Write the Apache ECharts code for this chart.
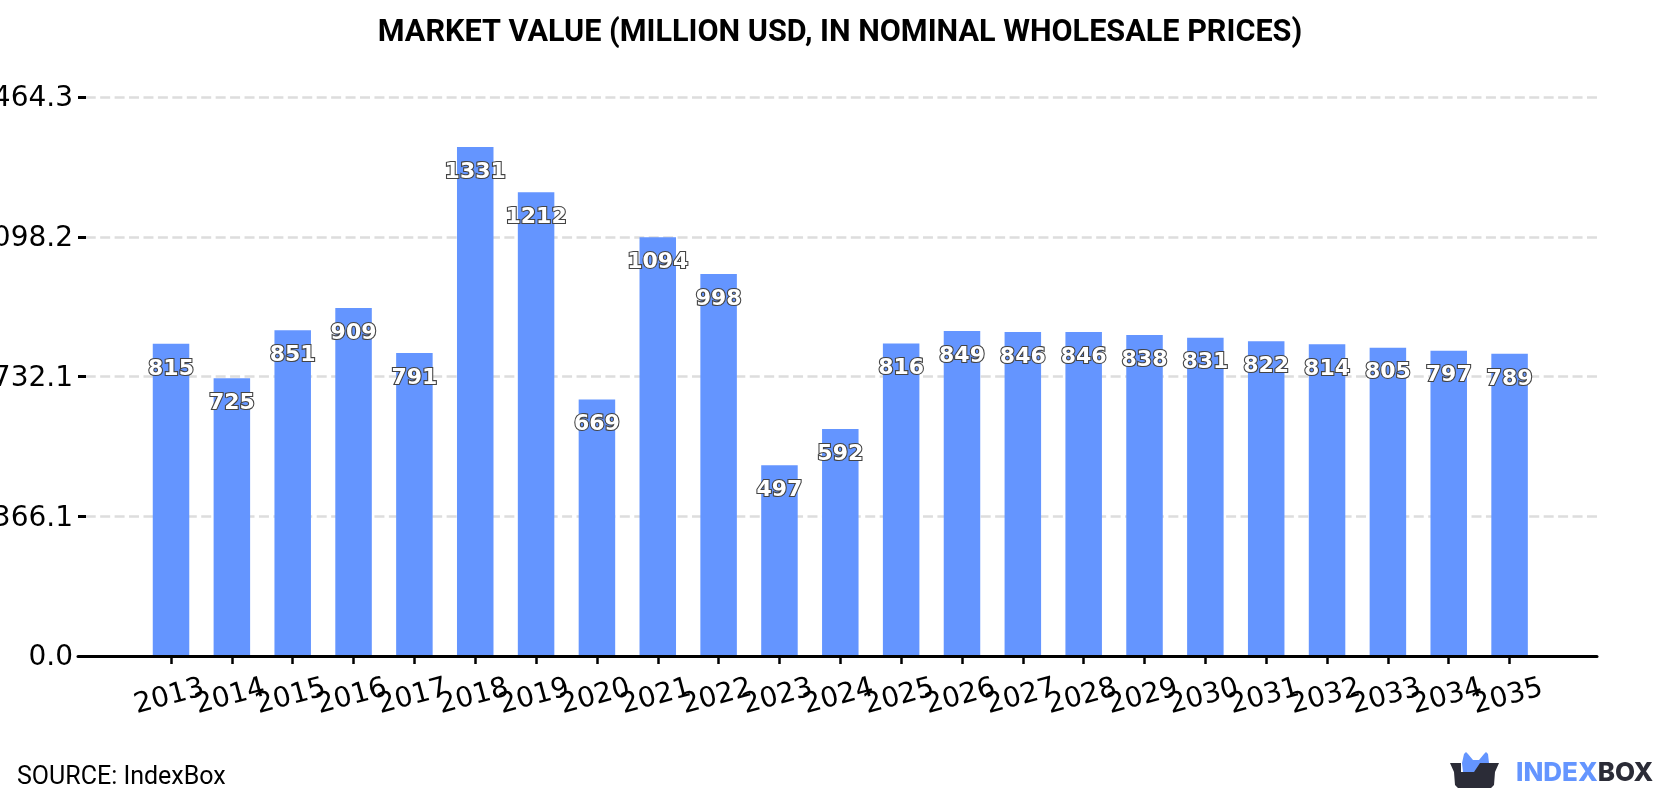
<!DOCTYPE html>
<html>
<head>
<meta charset="utf-8">
<style>html,body{margin:0;padding:0;background:#fff}#chart{width:1680px;height:800px}</style>
<script src="https://cdn.jsdelivr.net/npm/echarts@6/dist/echarts.min.js"></script>
</head>
<body>
<div id="chart"></div>
<script>
// Market value by year, million USD
const years = ['2013','2014','2015','2016','2017','2018','2019','2020','2021','2022','2023','2024','2025','2026','2027','2028','2029','2030','2031','2032','2033','2034','2035'];
const values = [815,725,851,909,791,1331,1212,669,1094,998,497,592,816,849,846,846,838,831,822,814,805,797,789];
const yTickLabels = ['0.0','366.1','732.1','1098.2','1464.3'];
const yMax = 1464.3;
const yStep = yMax / 4;

const titleText = 'MARKET VALUE (MILLION USD, IN NOMINAL WHOLESALE PRICES)';
const sourceText = 'SOURCE: IndexBox';

const BLUE = '#6495ff';
const DARK = '#2b2c37';

const chart = echarts.init(document.getElementById('chart'), null, {renderer: 'canvas'});
chart.setOption({
  animation: false,
  backgroundColor: '#fff',
  title: {
    text: titleText,
    left: 'center',
    top: 13,
    textStyle: {fontFamily: 'Roboto', fontWeight: 'bold', fontSize: 30.6, color: '#000'}
  },
  // Grid 0: gridlines and baseline. Grid 1: bars. Grid 2: value labels, set slightly below their ticks.
  grid: [
    {left: 78, right: 83, top: 97, bottom: 144, outerBoundsMode: 'none'},
    {left: 140.6, right: 140, top: 96, bottom: 145, outerBoundsMode: 'none'},
    {left: 78, right: 83, top: 99, bottom: 142, outerBoundsMode: 'none'}
  ],
  xAxis: [
    {
      type: 'value', gridIndex: 0, min: 0, max: 1,
      axisLine: {show: true, lineStyle: {color: '#000', width: 3}},
      axisTick: {show: false}, axisLabel: {show: false}, splitLine: {show: false}
    },
    {
      type: 'category', gridIndex: 1, data: years,
      axisLine: {show: false},
      axisTick: {show: true, alignWithLabel: true, length: 9, lineStyle: {color: '#000', width: 2.5}},
      axisLabel: {
        interval: 0, rotate: 15, align: 'center', verticalAlign: 'top', margin: 27,
        padding: [0, 11, 0, 0],
        hideOverlap: false, fontFamily: 'DejaVu Sans', fontSize: 28, color: '#000'
      },
      splitLine: {show: false}
    },
    {
      type: 'value', gridIndex: 2, min: 0, max: 1, show: false
    }
  ],
  yAxis: [
    {
      type: 'value', gridIndex: 0, min: 0, max: yMax, interval: yStep,
      axisLine: {show: false},
      axisTick: {show: true, inside: true, length: 8, lineStyle: {color: '#000', width: 3}},
      axisLabel: {show: false},
      splitLine: {show: true, lineStyle: {color: '#dddddd', width: 2.5, type: [10, 4.435], dashOffset: 6.7}}
    },
    {
      type: 'value', gridIndex: 1, min: 0, max: yMax, interval: yStep,
      axisLine: {show: false}, axisTick: {show: false}, axisLabel: {show: false}, splitLine: {show: false}
    },
    {
      type: 'value', gridIndex: 2, min: 0, max: yMax, interval: yStep,
      axisLine: {show: false}, axisTick: {show: false}, splitLine: {show: false},
      axisLabel: {
        margin: 5, fontFamily: 'DejaVu Sans', fontSize: 28, color: '#000',
        formatter: (v) => yTickLabels[Math.round(v / yStep)]
      }
    }
  ],
  series: [{
    type: 'bar',
    xAxisIndex: 1,
    yAxisIndex: 1,
    data: values,
    barWidth: '60%',
    itemStyle: {color: BLUE},
    label: {
      show: true,
      position: 'insideTop',
      distance: 14,
      fontFamily: 'DejaVu Sans',
      fontWeight: 'bold',
      fontSize: 22,
      color: '#fff',
      textBorderColor: '#444',
      textBorderWidth: 2.2
    }
  }],
  graphic: [
    {
      type: 'text', left: 17, top: 765,
      style: {text: sourceText, font: '25px Roboto', fill: '#000'}
    },
    // Brand mark: basket with two blue ears
    {
      type: 'polygon', z: 1,
      shape: {points: [[1462,763],[1464,754],[1466,752],[1468,754],[1473,760],[1479,760],[1484,754],[1486,752],[1488,754],[1489,763],[1486,769],[1478,771],[1474,772],[1470,772],[1463,772]]},
      style: {fill: BLUE}
    },
    {
      type: 'polygon', z: 2,
      shape: {points: [[1450,763],[1461,763],[1461,772],[1474,772],[1480,763],[1499,763],[1495,772],[1494,785],[1491,788],[1458,788],[1455,785],[1454,772]]},
      style: {fill: DARK}
    },
    {
      type: 'text', left: 1516, top: 760,
      style: {
        rich: {
          a: {fontFamily: 'Inter', fontWeight: 800, fontSize: 26, fill: BLUE},
          b: {fontFamily: 'Inter', fontWeight: 800, fontSize: 26, fill: DARK}
        },
        text: '{a|INDEX}{b|BOX}'
      }
    }
  ]
});
</script>
</body>
</html>
